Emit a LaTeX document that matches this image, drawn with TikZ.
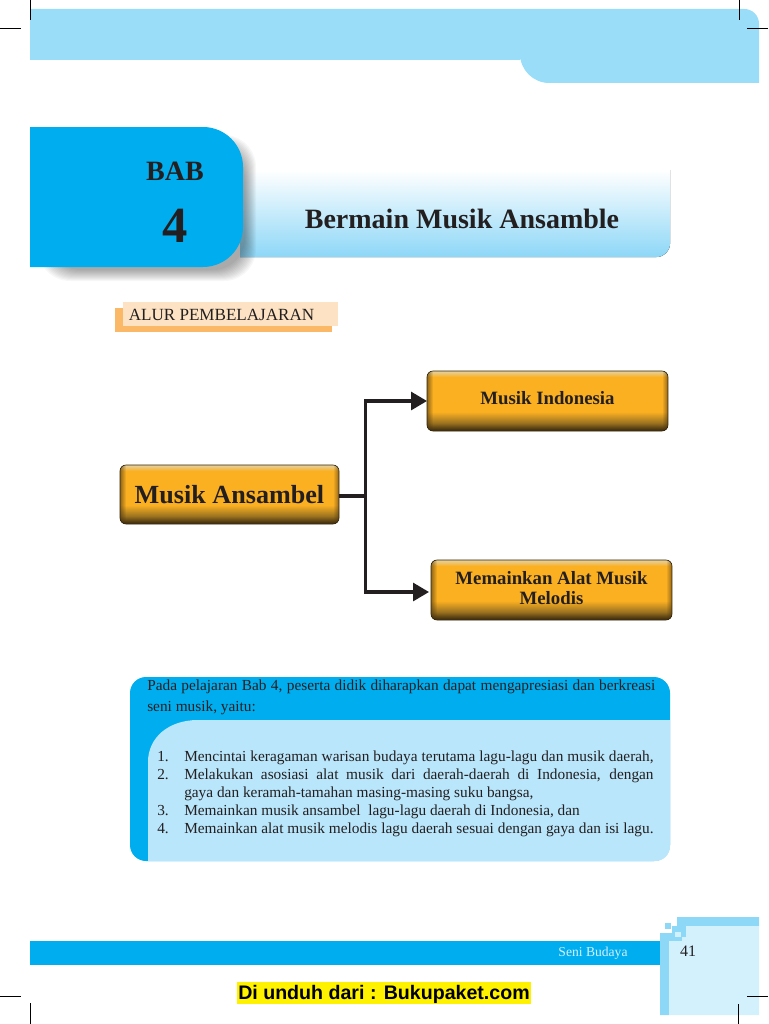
\documentclass[tikz,border=0pt]{standalone}
\usepackage{fontspec}
\setmainfont{Liberation Serif}
\newfontfamily\barfont{Liberation Sans}
\usetikzlibrary{arrows.meta,fadings,calc}
\definecolor{cyanA}{HTML}{00AEEF}
\definecolor{skyA}{HTML}{99DDF9}
\definecolor{skyB}{HTML}{B9E6FB}
\definecolor{skyC}{HTML}{8DD7F7}
\definecolor{paleA}{HTML}{D3F0FD}
\definecolor{peach}{HTML}{FDE3C3}
\definecolor{peachD}{HTML}{FBB867}
\definecolor{ink}{HTML}{231F20}
\definecolor{orA}{HTML}{FBB022}
\definecolor{orB}{HTML}{E7CC8E}
\definecolor{orC}{HTML}{4A3510}
\definecolor{orD}{HTML}{9E7420}
\pgfdeclareverticalshading{bevel}{100bp}{color(0bp)=(orC);color(25bp)=(orC);color(26.5bp)=(orC);color(32bp)=(orD);color(41bp)=(orA);color(70bp)=(orA);color(74bp)=(orB);color(75bp)=(orB);color(100bp)=(orB)}
\tikzset{
  crop/.style={black,line width=.75pt},
  boxtext/.style={font=\bfseries,text=ink,align=center,inner sep=0pt},
  bodytext/.style={anchor=base west,inner sep=0pt,text=ink,font=\fontsize{11.5}{13}\selectfont},
  conn/.style={ink,line width=2.3pt},
  arrowconn/.style={conn,-{Triangle[length=12pt,width=13.5pt]}},
}
\newcommand{\bevbox}[4]{%
  \begin{scope}
    \path[clip,rounded corners=4.5pt] (#1,#2) rectangle (#3,#4);
    \fill[shading=bevel] (#1,#2) rectangle (#3,#4);
    \fill[orC,path fading=east,opacity=.6] (#1,#2) rectangle ($(#1,#4)+(6,0)$);
    \fill[orC,path fading=west,opacity=.6] ($(#3,#2)+(-6,0)$) rectangle (#3,#4);
  \end{scope}
  \draw[orC!70!black,line width=.5pt,rounded corners=4.5pt] (#1,#2) rectangle (#3,#4);
}
\newcommand{\bodyline}[3]{\node[bodytext] (#1) at #2 {#3};}
\begin{document}
\begin{tikzpicture}[x=.75pt,y=-.75pt]
\useasboundingbox (0,0) rectangle (768,1024);
\fill[white] (0,0) rectangle (768,1024);
% top band
\fill[skyA] (30,9) [rounded corners=11pt] -- (759,9) [sharp corners] -- (759,83) [rounded corners=22pt] -- (520,83) [sharp corners] -- (520,60) -- (30,60) -- cycle;
% title strip
\fill[top color=white,bottom color=skyC] (240,170) -- (670,170) [rounded corners=10pt] -- (670,257) [sharp corners] -- (240,257) -- cycle;
% shadow
\foreach \i in {0,...,11}
  \fill[black,opacity=.03,rounded corners=24pt] ($(38,135)+(\i,\i)$) rectangle ($(256,281)-(\i,\i)$);
% BAB block
\fill[cyanA] (30,127) [rounded corners=30pt] -- (243,127) -- (243,267) [sharp corners] -- (30,267) -- cycle;
\node[inner sep=0pt,text=ink,font=\bfseries\fontsize{21}{24}\selectfont] (bab) at (175,171) {BAB};
\node[inner sep=0pt,text=ink,font=\bfseries\fontsize{38}{40}\selectfont] (num) at (175,226) {4};
\node[inner sep=0pt,text=ink,font=\bfseries\fontsize{21}{24}\selectfont] (title) at (462,219) {Bermain Musik Ansamble};
% alur
\fill[peachD] (115,308) rectangle (332,332);
\fill[peach] (123,302) rectangle (338,326);
\node[inner sep=0pt,text=ink,font=\fontsize{12.8}{14}\selectfont] (alur) at (221.5,315) {ALUR PEMBELAJARAN};
% boxes
\bevbox{120}{465}{339}{524}
\bevbox{427}{371}{668}{431}
\bevbox{431}{560}{672}{620}
\node[boxtext,font=\bfseries\fontsize{19.6}{22}\selectfont,minimum width=164pt,minimum height=44pt] (ans) at (229.5,494.5) {Musik Ansambel};
\node[boxtext,font=\bfseries\fontsize{14.1}{15}\selectfont,minimum width=181pt,minimum height=45pt] (ind) at (547.5,398) {Musik Indonesia};
\node[boxtext,font=\bfseries\fontsize{14.1}{15}\selectfont,minimum width=181pt,minimum height=45pt] (mem) at (551.5,588) {Memainkan Alat Musik\\Melodis};
% connectors
\coordinate (jn) at (365.5,496);
\coordinate (toind) at (427,401);
\coordinate (tomem) at (429,592);
\draw[conn] (ans.east |- jn) -- (jn);
\draw[arrowconn] (jn) |- (toind);
\draw[arrowconn] (jn) |- (tomem);
% panel
\fill[cyanA,rounded corners=12pt] (130,677) rectangle (670,861);
\fill[skyB] (148,861) -- (148,762) .. controls (148,738) and (168,720) .. (198,720) -- (670,720) [rounded corners=11pt] -- (670,861) [sharp corners] -- cycle;
\bodyline{p1}{(147,690)}{\makebox[381pt][s]{Pada pelajaran Bab 4, peserta didik diharapkan dapat mengapresiasi dan berkreasi}}
\bodyline{p2}{(147,711)}{seni musik, yaitu:}
\bodyline{n1}{(157,761)}{1.}
\bodyline{n2}{(157,779)}{2.}
\bodyline{n3}{(157,815)}{3.}
\bodyline{n4}{(157,833)}{4.}
\bodyline{l1}{(184,761)}{\makebox[352pt][s]{Mencintai keragaman warisan budaya terutama lagu-lagu dan musik daerah,}}
\bodyline{l2}{(184,779)}{\makebox[352pt][s]{Melakukan asosiasi alat musik dari daerah-daerah di Indonesia, dengan}}
\bodyline{l3}{(184,797)}{gaya dan keramah-tamahan masing-masing suku bangsa,}
\bodyline{l4}{(184,815)}{Memainkan musik ansambel\ \ lagu-lagu daerah di Indonesia, dan}
\bodyline{l5}{(184,833)}{\makebox[352pt][s]{Memainkan alat musik melodis lagu daerah sesuai dengan gaya dan isi lagu.}}
% bottom band
\fill[cyanA] (30,941) rectangle (660,965);
\fill[skyC] (660,941) -- (660,933) -- (672,933) -- (672,926) -- (677,926) -- (677,917) -- (759,917) -- (759,926) -- (686,926) -- (686,941) -- (669,941) -- (669,1015) -- (660,1015) -- cycle;
\fill[paleA] (669,1015) -- (669,941) -- (682,941) -- (682,937) -- (686,937) -- (686,926) -- (759,926) -- (759,1015) -- cycle;
\fill[skyC] (665,923) rectangle (671,929);
\fill[paleA] (675,932) rectangle (681,937);
\node[inner sep=0pt,text=paleA,font=\fontsize{10.2}{12}\selectfont] (seni) at (593,953) {Seni Budaya};
\node[inner sep=0pt,text=ink,font=\fontsize{12}{14}\selectfont] (page) at (688,951) {41};
% download bar
\fill[yellow] (237,982) rectangle (531,1004);
\node[inner sep=0pt,text=black,font=\barfont\bfseries\fontsize{14.7}{16}\selectfont] (dl) at (384,994) {Di unduh dari : Bukupaket.com};
% crop marks
\draw[crop] (30,0) -- (30,20);
\draw[crop] (0,29) -- (21,29);
\draw[crop] (739,0) -- (739,20);
\draw[crop] (747,29) -- (768,29);
\draw[crop] (0,996) -- (21,996);
\draw[crop] (30,1003) -- (30,1024);
\draw[crop] (747,996) -- (768,996);
\draw[crop] (738,1004) -- (738,1024);
\end{tikzpicture}
\end{document}
